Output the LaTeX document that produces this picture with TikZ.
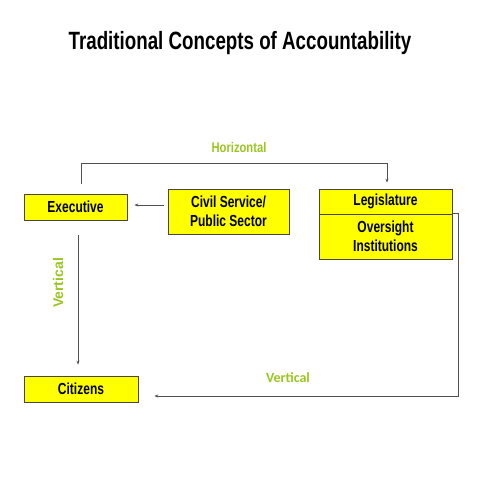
\documentclass[tikz,border=0pt]{standalone}
\usepackage{fontspec}
\setmainfont{Liberation Sans}
\newfontfamily\nar{Liberation Sans}[FakeStretch=0.75]
\newfontfamily\narb{Liberation Sans}[FakeStretch=0.8]
\newfontfamily\calib{Carlito}
\usetikzlibrary{arrows.meta}
\definecolor{boxyellow}{HTML}{FFFF00}
\definecolor{lblgreen}{HTML}{99C61E}
\definecolor{linegray}{HTML}{505050}
\begin{document}
\begin{tikzpicture}[x=1pt,y=-1pt,
  ybox/.style={draw=black!70!yellow!60!black, line width=0.7pt, fill=boxyellow, inner sep=0pt, align=center,
     font=\nar\bfseries\fontsize{16}{19}\selectfont},
  lbl/.style={text=lblgreen, font=\narb\bfseries\fontsize{14}{16}\selectfont},
  arr/.style={draw=linegray, line width=0.7pt, -{Stealth[length=4pt,width=3pt]}}]
\useasboundingbox (0,0) rectangle (480,480);
\node (title) at (240,43) {\nar\bfseries\fontsize{25}{30}\selectfont Traditional Concepts of Accountability};
\node[ybox, minimum width=103pt, minimum height=26pt] (exec) at (75.5,207) {Executive};
\node[ybox, minimum width=121pt, minimum height=45pt] (civil) at (228.5,211.5) {Civil Service/\\Public Sector};
\node[ybox, minimum width=133pt, minimum height=25pt] (leg) at (385.5,201.5) {Legislature};
\node[ybox, minimum width=133pt, minimum height=45pt] (ov) at (385.5,236.5) {Oversight\\Institutions};
\node[ybox, minimum width=114pt, minimum height=26pt] (cit) at (81,389) {Citizens};
\node[lbl] (hlab) at (239,147) {Horizontal};
\node[lbl, rotate=90, font=\bfseries\fontsize{14}{16}\selectfont] (vlab1) at (58,283) {Vertical};
\node[lbl, font=\calib\bfseries\fontsize{14}{16}\selectfont] (vlab2) at (288,378) {Vertical};
\draw[arr] ([shift={(5.5,-10)}]exec.north) -- ++(0,-20) -| ([shift={(1.5,-6)}]leg.north);
\draw[arr] ([shift={(-4,-6.5)}]civil.west) -- ([shift={(7,-2)}]exec.east);
\draw[arr] ([shift={(2.5,15)}]exec.south) -- ([shift={(-3,-11)}]cit.north);
\draw[arr] (ov.north east) -- ++(6,0) |- ([shift={(16,7)}]cit.east);
\end{tikzpicture}
\end{document}
